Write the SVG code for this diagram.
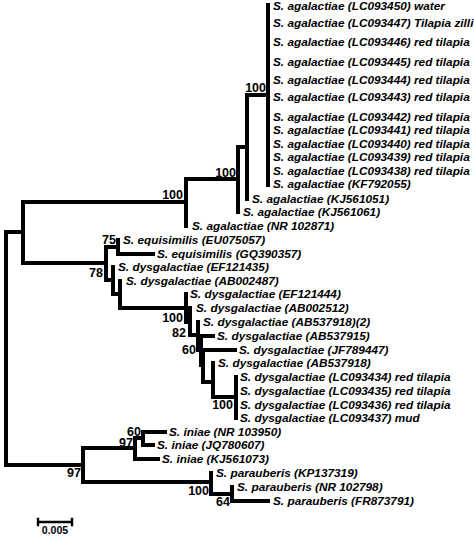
<svg xmlns="http://www.w3.org/2000/svg" width="474" height="537" viewBox="0 0 474 537">
<style>
.br{fill:none;stroke:#000;stroke-width:4;stroke-linecap:square}
.lf{font-family:"Liberation Sans",Arial,sans-serif;font-size:11.8px;font-weight:bold;font-style:italic;fill:#000}
.bs{font-family:"Liberation Sans",Arial,sans-serif;font-size:12.5px;font-weight:bold;fill:#000;text-anchor:end}
.sc{font-family:"Liberation Sans",Arial,sans-serif;font-size:10.5px;font-weight:bold;fill:#000;text-anchor:middle}
</style>
<rect width="474" height="537" fill="#fff"/>
<g id="connectors" class="br">
<path d="M6,232V465M6,232H23M6,465H83"/>
<path d="M23,202V263M23,202H186M23,263H106"/>
<path d="M186,179V226M186,179H238"/>
<path d="M238,147V212M238,147H247"/>
<path d="M247,95V199M247,95H268"/>
<path d="M268,5V185"/>
<path d="M106,247V280M106,247H118M106,280H113"/>
<path d="M118,240V254M118,254H153"/>
<path d="M113,267V294M113,294H120"/>
<path d="M120,281V308M120,308H186"/>
<path d="M186,294V322M186,322H190"/>
<path d="M190,308V335M190,335H198"/>
<path d="M198,322V350M198,350H201"/>
<path d="M201,336V365M201,336H213M201,365H203"/>
<path d="M203,350V382M203,350H235M203,382H213"/>
<path d="M213,363V397M213,397H236"/>
<path d="M236,377V418"/>
<path d="M83,448V482M83,448H135M83,482H211"/>
<path d="M135,438V459M135,438H143M135,459H158"/>
<path d="M143,432V445M143,432H165M143,445H153"/>
<path d="M211,473V494M211,494H232"/>
<path d="M232,487V501M232,501H268"/>
</g>
<g id="leaves" class="lf">
<g id="n1"><text x="273" y="10">S. agalactiae (LC093450) water</text></g>
<g id="n2"><text x="273" y="27">S. agalactiae (LC093447) Tilapia zilli</text></g>
<g id="n3"><text x="273" y="46">S. agalactiae (LC093446) red tilapia</text></g>
<g id="n4"><text x="273" y="66">S. agalactiae (LC093445) red tilapia</text></g>
<g id="n5"><text x="273" y="84">S. agalactiae (LC093444) red tilapia</text></g>
<g id="n6"><text x="273" y="101">S. agalactiae (LC093443) red tilapia</text></g>
<g id="n7"><text x="273" y="121">S. agalactiae (LC093442) red tilapia</text></g>
<g id="n8"><text x="273" y="134">S. agalactiae (LC093441) red tilapia</text></g>
<g id="n9"><text x="273" y="148">S. agalactiae (LC093440) red tilapia</text></g>
<g id="n10"><text x="273" y="161">S. agalactiae (LC093439) red tilapia</text></g>
<g id="n11"><text x="273" y="175">S. agalactiae (LC093438) red tilapia</text></g>
<g id="n12"><text x="273" y="188">S. agalactiae (KF792055)</text></g>
<g id="n13"><text x="252" y="203">S. agalactiae (KJ561051)</text></g>
<g id="n14"><text x="243" y="216">S. agalactiae (KJ561061)</text></g>
<g id="n15"><text x="192" y="230">S. agalactiae (NR 102871)</text></g>
<g id="n16"><text x="123" y="244">S. equisimilis (EU075057)</text></g>
<g id="n17"><text x="157" y="258">S. equisimilis (GQ390357)</text></g>
<g id="n18"><text x="118" y="271">S. dysgalactiae (EF121435)</text></g>
<g id="n19"><text x="126" y="285">S. dysgalactiae (AB002487)</text></g>
<g id="n20"><text x="190" y="298">S. dysgalactiae (EF121444)</text></g>
<g id="n21"><text x="196" y="312">S. dysgalactiae (AB002512)</text></g>
<g id="n22"><text x="203" y="326">S. dysgalactiae (AB537918)(2)</text></g>
<g id="n23"><text x="217" y="340">S. dysgalactiae (AB537915)</text></g>
<g id="n24"><text x="239" y="354">S. dysgalactiae (JF789447)</text></g>
<g id="n25"><text x="218" y="367">S. dysgalactiae (AB537918)</text></g>
<g id="n26"><text x="240" y="381">S. dysgalactiae (LC093434) red tilapia</text></g>
<g id="n27"><text x="240" y="395">S. dysgalactiae (LC093435) red tilapia</text></g>
<g id="n28"><text x="240" y="409">S. dysgalactiae (LC093436) red tilapia</text></g>
<g id="n29"><text x="240" y="422">S. dysgalactiae (LC093437) mud</text></g>
<g id="n30"><text x="169" y="436">S. iniae (NR 103950)</text></g>
<g id="n31"><text x="157" y="449">S. iniae (JQ780607)</text></g>
<g id="n32"><text x="162" y="463">S. iniae (KJ561073)</text></g>
<g id="n33"><text x="216" y="477">S. parauberis (KP137319)</text></g>
<g id="n34"><text x="237" y="491">S. parauberis (NR 102798)</text></g>
<g id="n35"><text x="273" y="505">S. parauberis (FR873791)</text></g>
</g>
<g id="bootstrap" class="bs">
<text x="266" y="92">100</text>
<text x="236" y="177">100</text>
<text x="183" y="199">100</text>
<text x="116" y="244">75</text>
<text x="103" y="277">78</text>
<text x="183" y="322">100</text>
<text x="186" y="337">82</text>
<text x="196" y="354">60</text>
<text x="233" y="409">100</text>
<text x="141" y="436">60</text>
<text x="133" y="447">97</text>
<text x="81" y="477">97</text>
<text x="209" y="495">100</text>
<text x="230" y="506">64</text>
</g>
<g id="scale">
<path class="br" style="stroke-width:2.4" d="M38,522H72M38,519V525M72,519V525"/>
<text class="sc" x="55" y="534">0.005</text>
</g>
</svg>
